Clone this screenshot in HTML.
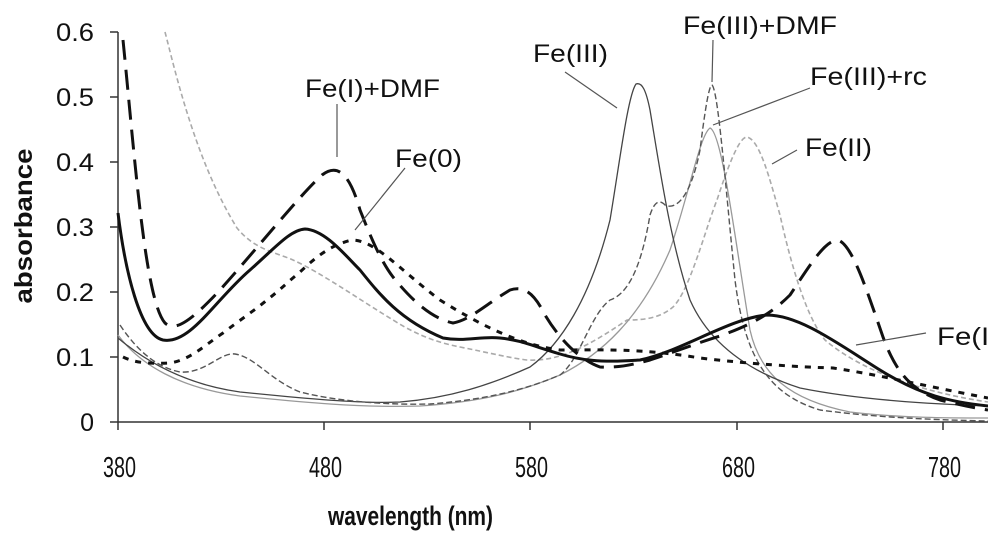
<!DOCTYPE html>
<html><head><meta charset="utf-8"><style>
html,body{margin:0;padding:0;background:#fff;width:988px;height:537px;overflow:hidden}
svg{display:block}
text{font-family:"Liberation Sans",Arial,sans-serif;fill:#111}
</style></head><body>
<svg width="988" height="537" viewBox="0 0 988 537" xmlns="http://www.w3.org/2000/svg">
<g stroke="#333" stroke-width="1.5" fill="none">
<line x1="118" y1="32" x2="118" y2="422"/>
<line x1="110" y1="422" x2="988" y2="422"/>
<line x1="110" y1="32" x2="118" y2="32"/><line x1="110" y1="97" x2="118" y2="97"/>
<line x1="110" y1="162" x2="118" y2="162"/><line x1="110" y1="227" x2="118" y2="227"/>
<line x1="110" y1="292" x2="118" y2="292"/><line x1="110" y1="357" x2="118" y2="357"/>
<line x1="118" y1="422" x2="118" y2="430"/><line x1="324" y1="422" x2="324" y2="430"/>
<line x1="530" y1="422" x2="530" y2="430"/><line x1="737" y1="422" x2="737" y2="430"/>
<line x1="943" y1="422" x2="943" y2="430"/>
</g>
<g font-size="25" text-anchor="end">
<text x="94" y="41" textLength="38" lengthAdjust="spacingAndGlyphs">0.6</text>
<text x="94" y="106" textLength="38" lengthAdjust="spacingAndGlyphs">0.5</text>
<text x="94" y="171" textLength="38" lengthAdjust="spacingAndGlyphs">0.4</text>
<text x="94" y="236" textLength="38" lengthAdjust="spacingAndGlyphs">0.3</text>
<text x="94" y="301" textLength="38" lengthAdjust="spacingAndGlyphs">0.2</text>
<text x="94" y="366" textLength="38" lengthAdjust="spacingAndGlyphs">0.1</text>
<text x="94" y="431">0</text>
</g>
<g font-size="29">
<text x="103" y="477" textLength="33" lengthAdjust="spacingAndGlyphs">380</text>
<text x="309" y="477" textLength="33" lengthAdjust="spacingAndGlyphs">480</text>
<text x="515" y="477" textLength="33" lengthAdjust="spacingAndGlyphs">580</text>
<text x="722" y="477" textLength="33" lengthAdjust="spacingAndGlyphs">680</text>
<text x="928" y="477" textLength="33" lengthAdjust="spacingAndGlyphs">780</text>
</g>
<text x="328" y="525" font-size="27" font-weight="bold" textLength="165" lengthAdjust="spacingAndGlyphs">wavelength (nm)</text>
<text transform="translate(32,226) rotate(-90)" font-size="25" font-weight="bold" text-anchor="middle" textLength="155" lengthAdjust="spacingAndGlyphs">absorbance</text>

<g fill="none" stroke-linejoin="round" stroke-linecap="butt">
<path stroke="#aaa" stroke-width="1.6" stroke-dasharray="5,3" d="M165,32 C175,70 195,160 237,228 C255,250 275,252 293,260 C320,272 360,300 393,320 C420,337 440,343 460,347 C490,353 510,358 527,360 C560,362 590,345 627,320 C645,320 660,318 673,307 C690,290 705,230 717,200 C730,160 740,137 747,137 C760,140 770,180 780,215 C790,260 805,315 825,340 C860,370 920,392 988,402"/>
<path stroke="#999" stroke-width="1.3" d="M118,335 C140,365 180,388 240,396 C300,402 360,408 420,406 C480,402 520,392 560,375 C600,355 640,320 670,250 C690,190 700,135 710,128 C722,132 735,240 750,330 C760,375 790,400 850,412 C900,418 950,418 988,418"/>
<path stroke="#444" stroke-width="1.3" d="M118,338 C150,365 190,385 240,392 C300,398 360,404 400,402 C450,398 490,385 530,367 C560,345 590,300 610,220 C620,160 628,95 636,84 C642,82 646,90 650,110 C660,170 670,240 690,300 C710,345 750,372 800,388 C860,400 930,404 988,406"/>
<path stroke="#555" stroke-width="1.4" stroke-dasharray="6,3" d="M120,325 C140,355 160,368 180,372 C205,374 220,352 235,354 C255,357 270,380 300,392 C340,402 390,405 430,404 C480,400 520,392 560,375 C580,360 590,315 610,300 C625,295 640,275 650,215 C655,200 660,200 665,205 C675,210 690,200 700,150 C705,110 709,85 712,85 C718,90 725,180 735,280 C745,360 770,395 820,410 C880,418 940,420 988,421"/>
<path stroke="#111" stroke-width="3" stroke-dasharray="6,7" d="M123,357 C135,363 150,364 170,363 C190,360 205,345 223,333 C240,320 255,310 267,300 C280,290 290,280 300,272 C315,258 330,245 352,240 C375,240 400,270 440,300 C480,325 520,345 560,350 C600,350 640,348 700,358 C750,364 800,367 833,368 C880,375 920,385 988,398"/>
<path stroke="#111" stroke-width="3" stroke-dasharray="20,10" d="M123,40 C135,160 145,300 165,323 C175,332 190,322 220,290 C260,245 300,195 322,175 C335,165 348,168 360,210 C370,235 380,260 393,277 C410,298 430,318 453,323 C470,320 485,305 510,290 C525,285 535,295 545,315 C560,340 580,360 600,367 C620,368 635,364 650,360 C680,350 700,342 720,336 C750,325 770,315 790,295 C810,265 825,240 838,240 C852,245 865,285 883,337 C895,370 910,390 940,400 C960,405 975,408 988,410"/>
<path stroke="#111" stroke-width="3" d="M118,213 C125,270 140,335 163,340 C190,345 215,300 250,270 C275,248 290,230 305,229 C325,230 345,255 360,270 C380,295 400,320 443,338 C465,342 480,336 500,338 C520,340 530,345 560,354 C580,360 600,363 640,360 C680,352 730,318 767,315 C800,315 840,345 880,370 C920,395 950,402 988,406"/>
</g>
<g stroke="#555" stroke-width="1.2">
<line x1="337" y1="104" x2="337" y2="157"/>
<line x1="405" y1="168" x2="355" y2="230"/>
<line x1="565" y1="72" x2="617" y2="108"/>
<line x1="713" y1="40" x2="712" y2="82"/>
<line x1="810" y1="88" x2="713" y2="125"/>
<line x1="797" y1="150" x2="772" y2="164"/>
<line x1="926" y1="333" x2="856" y2="345"/>
</g>
<g font-size="25">
<text x="305" y="97" textLength="135" lengthAdjust="spacingAndGlyphs">Fe(I)+DMF</text>
<text x="395" y="167" textLength="67" lengthAdjust="spacingAndGlyphs">Fe(0)</text>
<text x="533" y="62" textLength="75" lengthAdjust="spacingAndGlyphs">Fe(III)</text>
<text x="683" y="34" textLength="154" lengthAdjust="spacingAndGlyphs">Fe(III)+DMF</text>
<text x="810" y="85" textLength="117" lengthAdjust="spacingAndGlyphs">Fe(III)+rc</text>
<text x="805" y="156" textLength="67" lengthAdjust="spacingAndGlyphs">Fe(II)</text>
<text x="937" y="345" textLength="62" lengthAdjust="spacingAndGlyphs">Fe(I)</text>
</g>
</svg>
</body></html>
